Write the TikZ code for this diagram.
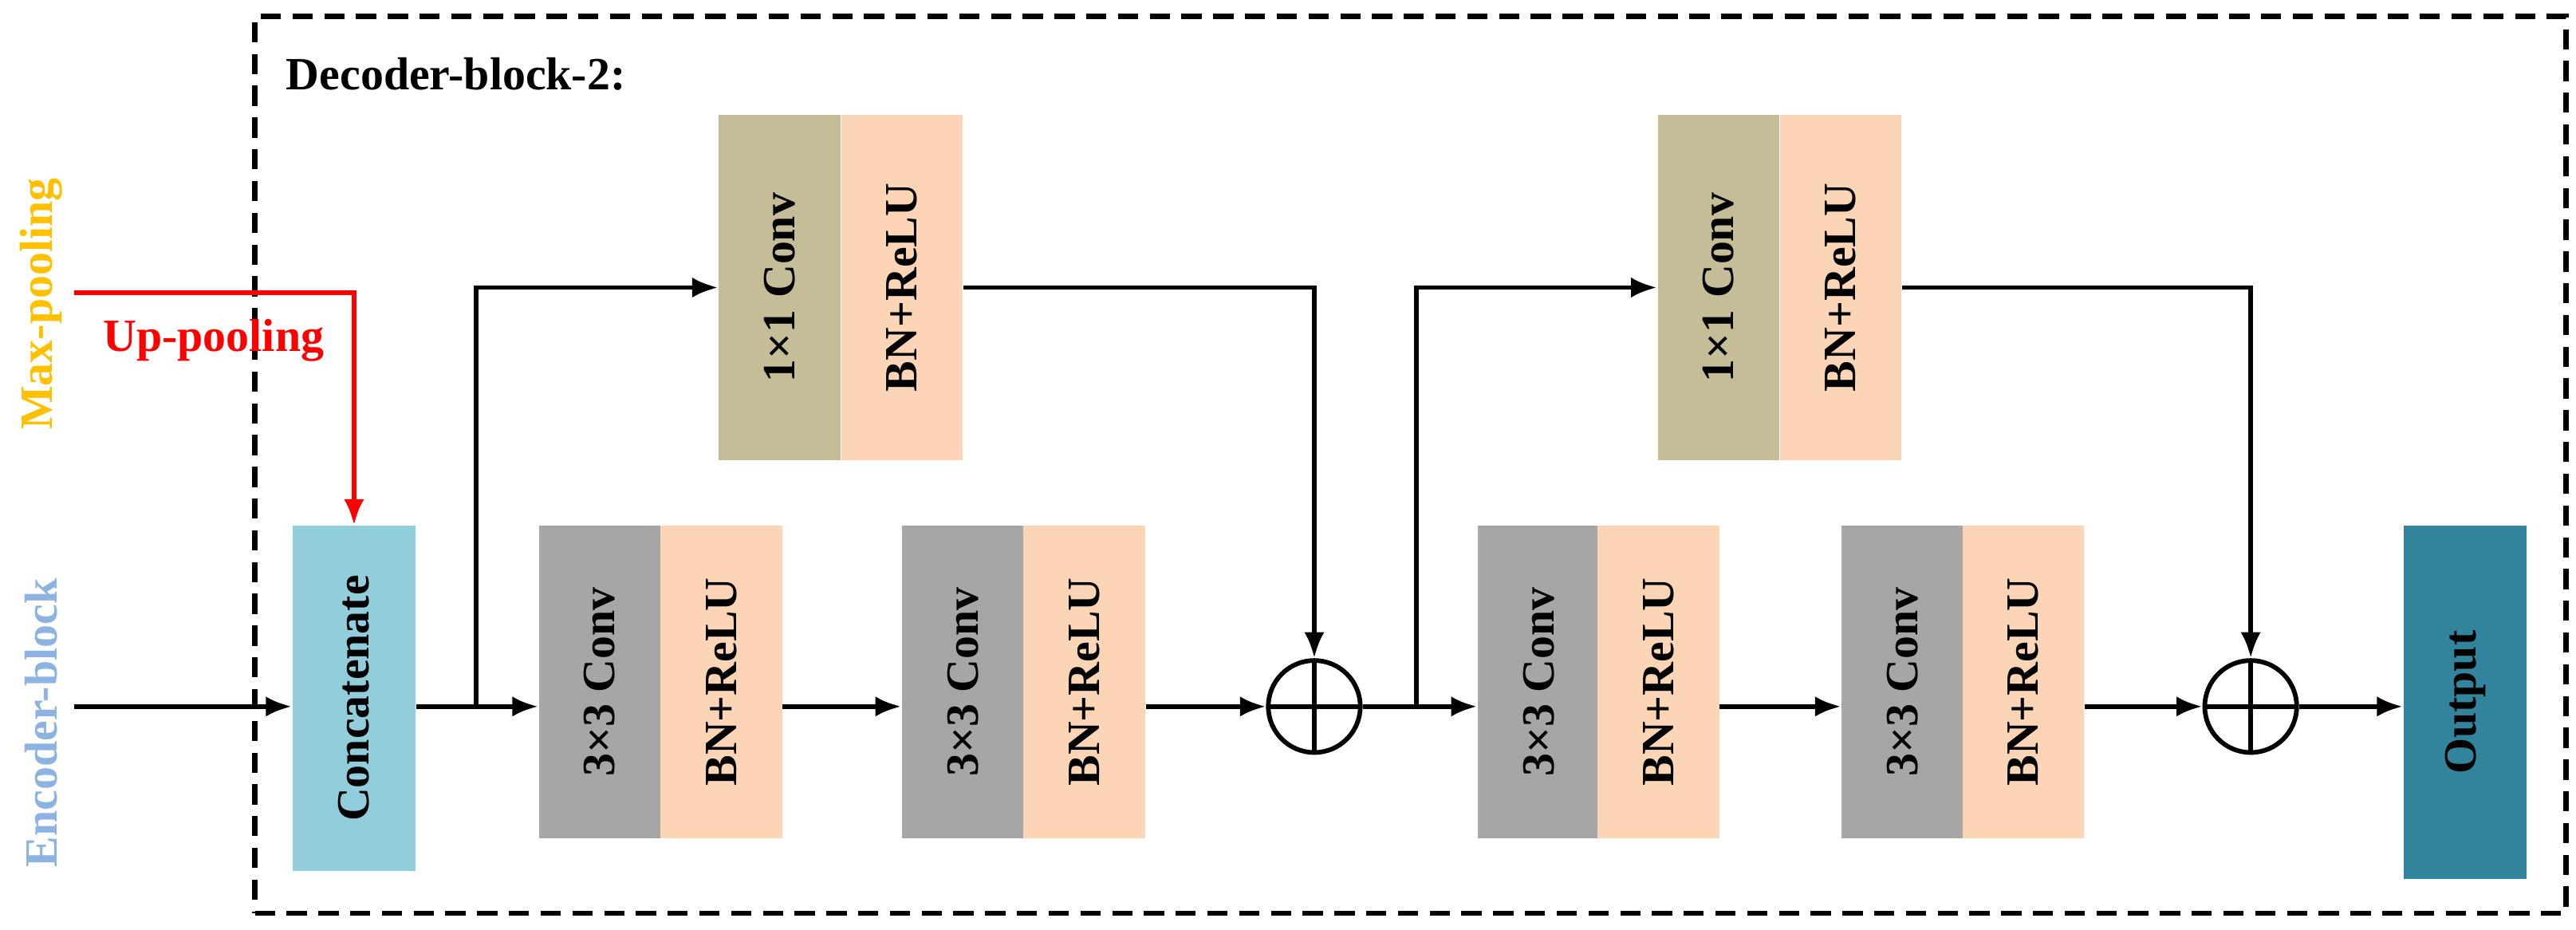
\documentclass[tikz,border=0pt]{standalone}
\usepackage{fontspec}
\setmainfont{Liberation Serif}
\usetikzlibrary{arrows.meta}
\definecolor{grayc}{HTML}{A6A6A6}
\definecolor{peach}{HTML}{FBD5B5}
\definecolor{khaki}{HTML}{C4BD97}
\definecolor{concatc}{HTML}{92CDDC}
\definecolor{outc}{HTML}{31849B}
\definecolor{maxc}{HTML}{FFC000}
\definecolor{encc}{HTML}{8DB3E2}
\begin{document}
\begin{tikzpicture}[x=0.02cm,y=0.02cm,
  fnt/.style={font=\fontsize{16}{18}\selectfont\bfseries},
  blk/.style={draw=none,inner sep=0pt,minimum width=1.48cm},
  tall/.style={blk,minimum height=3.8cm},
  tall2/.style={blk,minimum height=4.2cm},
  rt/.style={fnt,rotate=90},
  conn/.style={line width=1.6pt,-{Latex[length=9pt,width=7pt]}},
  pl/.style={circle,draw,line width=1.6pt,minimum size=1.12cm,inner sep=0pt,
    path picture={\draw[line width=1.6pt] (path picture bounding box.north)--(path picture bounding box.south) (path picture bounding box.west)--(path picture bounding box.east);}}]
\useasboundingbox (0,0) rectangle (1568,566);
\fill[white] (0,0) rectangle (1568,566);
\node[draw,dashed,line width=1.8pt,dash pattern=on 7pt off 4pt,minimum width=28.14cm,minimum height=10.92cm,inner sep=0pt] (frame) at (858.5,283) {};
\node[fnt,anchor=west] (title) at (168,521) {Decoder-block-2:};
\node[rt,text=maxc] (maxl) at (25,381) {Max-pooling};
\node[rt,text=encc] (encl) at (25,126) {Encoder-block};
\node[fnt,text=red] (upl) at (130,359) {Up-pooling};
% concat
\node[blk,fill=concatc,minimum width=1.5cm,minimum height=4.2cm] (cat) at (215.5,141) {};
\node[rt] at (cat) {Concatenate};
% 3x3 blocks
\foreach \n/\xa/\xb in {c1/365/439, c2/586/660, c3/936.5/1009.5, c4/1158/1231.5}{
  \node[tall,fill=grayc] (\n a) at (\xa,151) {};
  \node[tall,fill=peach] (\n b) at (\xb,151) {};
  \node[rt] at (\n a) {3×3 Conv};
  \node[rt] at (\n b) {BN+ReLU};
}
\foreach \n/\xa/\xb in {k1/474.5/549, k2/1046/1120.5}{
  \node[tall2,fill=khaki] (\n a) at (\xa,391) {};
  \node[tall2,fill=peach] (\n b) at (\xb,391) {};
  \node[rt] at (\n a) {1×1 Conv};
  \node[rt] at (\n b) {BN+ReLU};
}
\node[blk,fill=outc,minimum width=1.5cm,minimum height=4.3cm] (out) at (1500.5,138.5) {};
\node[rt] at (out) {Output};
\node[pl] (p1) at (800,136) {};
\node[pl] (p2) at (1370,136) {};
\coordinate (enc) at (45,136);
\coordinate (mp) at (45,388);
\coordinate (b1) at (290,136);
\coordinate (b2) at (862,136);
% connectors
\draw[conn] (enc) -- (enc -| cat.west);
\draw[conn] (b1 -| cat.east) -- (b1 -| c1a.west);
\draw[conn] (b1 -| c1b.east) -- (b1 -| c2a.west);
\draw[conn] (b1 -| c2b.east) -- (p1.west);
\draw[conn] (p1.east) -- (b1 -| c3a.west);
\draw[conn] (b1 -| c3b.east) -- (b1 -| c4a.west);
\draw[conn] (b1 -| c4b.east) -- (p2.west);
\draw[conn] (p2.east) -- (b1 -| out.west);
\draw[conn] (b1) |- (k1a.west);
\draw[conn] (k1b.east) -| (p1.north);
\draw[conn] (b2) |- (k2a.west);
\draw[conn] (k2b.east) -| (p2.north);
\draw[conn,red] (mp) -| (cat.north);
\end{tikzpicture}
\end{document}
